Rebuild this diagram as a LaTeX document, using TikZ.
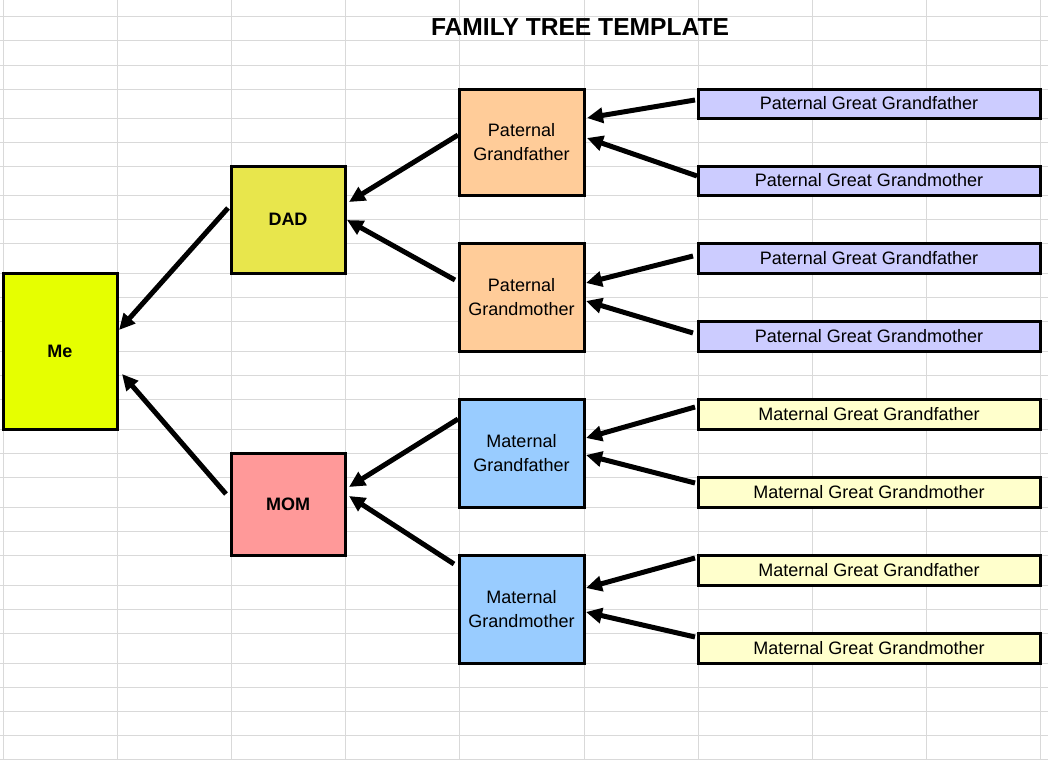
\documentclass[tikz,border=0pt]{standalone}
\usepackage{fontspec}
\setmainfont{Liberation Sans}
\usetikzlibrary{arrows.meta}
\definecolor{meC}{HTML}{E6FF00}
\definecolor{dadC}{HTML}{E8E64C}
\definecolor{momC}{HTML}{FF9999}
\definecolor{pgpC}{HTML}{FFCC99}
\definecolor{mgpC}{HTML}{99CCFF}
\definecolor{pggC}{HTML}{CCCCFF}
\definecolor{mggC}{HTML}{FFFFCC}
\definecolor{gridC}{HTML}{D9D9D9}
\tikzset{
  box/.style={draw=black, line width=3pt, inner sep=0pt, outer sep=0pt, align=center,
    font=\fontsize{18}{24}\selectfont},
  boldbox/.style={box, font=\fontsize{18}{24}\selectfont\bfseries},
  gpbox/.style={box, minimum width=125pt, minimum height=108pt},
  ggbox/.style={box, minimum width=342pt, minimum height=30pt},
  arr/.style={line width=5pt, -{Triangle[length=16pt,width=15pt]}},
  gridline/.style={draw=gridC, line width=1pt}
}
\begin{document}
\begin{tikzpicture}[x=1pt,y=-1pt]
\useasboundingbox (0,0) rectangle (1048,760);
\fill[white] (0,0) rectangle (1048,760);
% grid
\foreach \gx in {3,117,231,345,459,584,698,812,926,1040}
  \draw[gridline] (\gx,0) -- (\gx,760);
\foreach \gy in {17,41,65,89,118,142,166,195,219,243,273,297,321,351,375,399,429,453,477,507,531,555,585,609,633,663,687,711,735,759}
  \draw[gridline] (0,\gy) -- (1048,\gy);
% title
\node[font=\fontsize{24.6}{28}\selectfont\bfseries] (title) at (580,27) {FAMILY TREE TEMPLATE};
% main boxes
\node[boldbox, fill=meC, minimum width=114pt, minimum height=156pt] (me) at (60,351) {Me};
\node[boldbox, fill=dadC, minimum width=114pt, minimum height=107pt] (dad) at (288,219.5) {DAD};
\node[boldbox, fill=momC, minimum width=114pt, minimum height=102pt] (mom) at (288,504) {MOM};
\node[gpbox, fill=pgpC, minimum height=106pt] (pgf) at (521.5,142) {Paternal\\Grandfather};
\node[gpbox, fill=pgpC] (pgm) at (521.5,297) {Paternal\\Grandmother};
\node[gpbox, fill=mgpC] (mgf) at (521.5,453) {Maternal\\Grandfather};
\node[gpbox, fill=mgpC] (mgm) at (521.5,609) {Maternal\\Grandmother};
% great grandparents
\node[ggbox, fill=pggC, minimum height=29pt] (g1) at (869,103.5) {Paternal Great Grandfather};
\node[ggbox, fill=pggC, minimum height=29pt] (g2) at (869,180.5) {Paternal Great Grandmother};
\node[ggbox, fill=pggC] (g3) at (869,258) {Paternal Great Grandfather};
\node[ggbox, fill=pggC] (g4) at (869,336) {Paternal Great Grandmother};
\node[ggbox, fill=mggC] (g5) at (869,414) {Maternal Great Grandfather};
\node[ggbox, fill=mggC] (g6) at (869,492) {Maternal Great Grandmother};
\node[ggbox, fill=mggC] (g7) at (869,570) {Maternal Great Grandfather};
\node[ggbox, fill=mggC] (g8) at (869,648) {Maternal Great Grandmother};
% connectors
\draw[arr] ([xshift=-3pt,yshift=11.5pt]dad.west) -- ([xshift=2pt,yshift=21pt]me.east);
\draw[arr] ([xshift=-5pt,yshift=10pt]mom.west) -- ([xshift=5pt,yshift=-23pt]me.east);
\draw[arr] ([xshift=-1pt,yshift=7pt]pgf.west) -- ([xshift=4pt,yshift=17.5pt]dad.east);
\draw[arr] ([xshift=-4pt,yshift=17pt]pgm.west) -- ([xshift=2pt,yshift=-0.5pt]dad.east);
\draw[arr] ([xshift=-1pt,yshift=34pt]mgf.west) -- ([xshift=4pt,yshift=17pt]mom.east);
\draw[arr] ([xshift=-5pt,yshift=45pt]mgm.west) -- ([xshift=4pt,yshift=8pt]mom.east);
\draw[arr] ([xshift=-3pt,yshift=3.5pt]g1.west) -- ([xshift=3pt,yshift=24pt]pgf.east);
\draw[arr] ([xshift=-1pt,yshift=4.5pt]g2.west) -- ([xshift=3pt,yshift=4pt]pgf.east);
\draw[arr] ([xshift=-5pt,yshift=2pt]g3.west) -- ([xshift=2pt,yshift=14pt]pgm.east);
\draw[arr] ([xshift=-5pt,yshift=3pt]g4.west) -- ([xshift=2pt,yshift=-4pt]pgm.east);
\draw[arr] ([xshift=-3pt,yshift=7pt]g5.west) -- ([xshift=2pt,yshift=15pt]mgf.east);
\draw[arr] ([xshift=-3pt,yshift=9pt]g6.west) -- ([xshift=2pt,yshift=-2pt]mgf.east);
\draw[arr] ([xshift=-3pt,yshift=12pt]g7.west) -- ([xshift=2pt,yshift=21pt]mgm.east);
\draw[arr] ([xshift=-3pt,yshift=11pt]g8.west) -- ([xshift=2pt,yshift=-3pt]mgm.east);
\end{tikzpicture}
\end{document}
